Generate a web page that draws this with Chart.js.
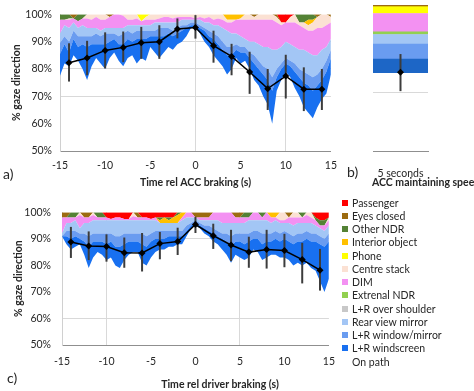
<!DOCTYPE html>
<html>
<head>
<meta charset="utf-8">
<title>Gaze direction around braking</title>
<script src="https://cdn.jsdelivr.net/npm/chart.js@4.4.1/dist/chart.umd.min.js"></script>
<style>
  html, body { margin: 0; padding: 0; background: #fff; }
  body { position: relative; width: 474px; height: 391px; overflow: hidden; font-family: Lato, "Open Sans", sans-serif; color: #262626; }
  canvas { position: absolute; }
  .panel { position: absolute; font-size: 14px; line-height: 14px; }
  .axis-title { position: absolute; font-size: 10.5px; font-weight: bold; line-height: 13px; white-space: nowrap; }
  #legend { position: absolute; left: 342px; top: 196px; font-size: 10.5px; }
  #legend div { display: flex; align-items: center; height: 13.25px; white-space: nowrap; }
  #legend i { display: inline-block; width: 6px; height: 6px; margin-right: 4px; }
</style>
</head>
<body>
<canvas id="chartA" width="345" height="195" style="left:0;top:0"></canvas>
<canvas id="chartB" width="134" height="195" style="left:340px;top:0"></canvas>
<canvas id="chartC" width="345" height="196" style="left:0;top:195px"></canvas>
<div class="panel" style="left:3px;top:167px">a)</div>
<div class="panel" style="left:347px;top:165px">b)</div>
<div class="panel" style="left:7px;top:371px">c)</div>
<div class="axis-title" style="left:372px;top:176px">ACC maintaining speed</div>
<div class="axis-title" style="left:120px;width:200px;text-align:center;top:378px">Time rel driver braking (s)</div>
<div id="legend"></div>

<script>
// categories, bottom of the stack first
const labels = ['On path', 'L+R windscreen', 'L+R window/mirror', 'Rear view mirror', 'L+R over shoulder',
  'Extrenal NDR', 'DIM', 'Centre stack', 'Phone', 'Interior object', 'Other NDR', 'Eyes closed', 'Passenger'];

const times = [-15, -14.5, -14, -13.5, -13, -12.5, -12, -11.5, -11, -10.5, -10, -9.5, -9, -8.5, -8, -7.5,
  -7, -6.5, -6, -5.5, -5, -4.5, -4, -3.5, -3, -2.5, -2, -1.5, -1, -0.5, 0, 0.5, 1, 1.5, 2, 2.5, 3, 3.5,
  4, 4.5, 5, 5.5, 6, 6.5, 7, 7.5, 8, 8.5, 9, 9.5, 10, 10.5, 11, 11.5, 12, 12.5, 13, 13.5, 14, 14.5, 15];
const meanTimes = [-14, -12, -10, -8, -6, -4, -2, 0, 2, 4, 6, 8, 10, 12, 14];

// a) ACC braking, % share of each gaze target
const aOnPath = [77.5, 82, 81, 85, 83, 80, 76, 81, 84, 82, 80, 84, 86, 83, 81, 84, 85, 82, 84, 83, 88, 86, 84, 86,
  88, 87, 89, 90, 92, 95, 95, 93, 90, 88, 85, 83, 81, 78, 80, 84, 82, 83, 80, 76, 74, 70, 67, 60, 72, 76,
  79, 77, 73, 70, 66, 64, 62, 66, 69, 71, 78];
const aWindscreen = [8, 7, 5, 6, 5, 9, 12, 8, 5, 7, 9, 6, 5, 6, 8, 7, 5, 9, 7, 8, 4, 6, 8, 6, 5, 5, 4, 4, 3, 1,
  1, 2, 4, 4, 6, 6, 6, 7, 5, 3, 4, 3, 4, 6, 6, 8, 9, 12, 5, 4, 3, 4, 6, 7, 9, 10, 10, 8, 7, 8, 6];
const aWindowMirror = [4, 3, 4, 3, 4, 3, 4, 3, 4, 3, 4, 3, 2, 3, 4, 3, 3, 3, 3, 3, 2, 2, 3, 3, 2, 2, 2, 2, 1, 1,
  1, 1, 1, 2, 2, 3, 3, 3, 3, 2, 2, 2, 2, 3, 3, 3, 4, 5, 3, 2, 2, 2, 3, 3, 4, 4, 5, 4, 4, 4, 3];
const aRearView = [3.5, 4, 5, 3, 3, 4, 3, 3, 2, 2, 2, 2, 2, 3, 2, 2, 3, 2, 2, 2, 2, 3, 2, 2, 2, 3, 2, 2, 2, 1,
  1, 2, 2, 3, 3, 4, 5, 6, 5, 4, 4, 3, 4, 5, 6, 7, 8, 10, 7, 6, 6, 6, 6, 7, 8, 8, 8, 7, 7, 5, 4];
const aDim = [5, 2, 3, 1.5, 2.5, 2.5, 3.5, 3, 4, 4, 3, 4, 5, 5, 4.5, 2, 2, 2.5, 1.5, 2, 2, 1, 1.5, 2, 2, 1.5, 2,
  1, 1, 1, 0.5, 1, 1.5, 2, 2, 2.5, 3, 3, 4, 5, 6, 7, 8, 8, 9, 10, 10, 11, 10, 8, 7, 8, 9, 9, 8, 8, 9, 10, 8, 8, 6];
const aCentreStack = [0, 0, 0.5, 0, 0, 0, 1.5, 2, 1, 2, 2, 0, 0, 0, 0.5, 2, 2, 1.5, 0, 1, 2, 2, 1.5, 1, 1, 1.5,
  1, 1, 1, 1, 1.5, 1, 1.5, 1, 2, 1.5, 2, 1, 1, 0, 0.5, 2, 2, 1, 2, 2, 2, 2, 2, 1, 0, 2, 3, 1, 2, 2, 3, 4, 5, 4, 2];
// sparse series: [time, %], zero elsewhere
const aOverShoulder = [];
const aExternalNdr = [];
const aPhone = [[-6, 2.5], [-5.5, 1]];
const aInterior = [[3.5, 2], [4, 2], [4.5, 2], [5, 1.5], [12.5, 2], [13, 1]];
const aOtherNdr = [[-15, 2], [-14.5, 2], [-14, 1.5], [-13, 2.5], [-12.5, 1.5], [11.5, 3], [12, 3], [12.5, 2], [13, 2]];
const aEyesClosed = [[-13.5, 1.5], [-9.5, 1], [6.5, 1], [9, 1], [13.5, 1], [15, 1]];
const aPassenger = [[9.5, 3], [10, 3], [10.5, 1]];
const aMean = [82.3, 84, 86.8, 87.9, 89.6, 90, 94.6, 95.2, 88.5, 84.6, 78.9, 72.8, 77.4, 72.6, 72.6];
const aHigh = [89.4, 90.3, 93.4, 93.7, 95.4, 96, 98.5, 99.7, 94, 89.2, 86.3, 80, 85.2, 80.6, 80];
const aLow = [75.4, 77.7, 80.2, 82.5, 83.7, 83.7, 91.2, 91.1, 82.3, 77.7, 70.9, 65, 69.2, 64.6, 65];

// b) ACC maintaining speed, one stacked bar (same order as labels)
const bCategory = ['5 seconds'];
const bShares = [76.8, 4.7, 5.1, 3.3, 0, 0.9, 6.3, 0, 2.3, 0, 0, 0.6, 0];
const bMean = [77];
const bHigh = [83.2];
const bLow = [70.5];

// c) driver braking
const cOnPath = [91, 88, 86, 87, 88, 84, 79, 83, 85, 84, 82, 83, 80, 79, 82, 84, 85, 85, 81, 80, 83, 85, 86, 86,
  87, 87, 88, 88, 91, 94, 95, 94, 92, 91, 89, 88, 86, 84, 81, 84, 83, 82, 83, 86, 85, 82, 83, 84, 84, 83,
  83, 82, 80, 81, 80, 81, 79, 78, 74, 70, 75];
const cWindscreen = [0, 3, 4, 4, 2, 5, 8, 6, 4, 5, 6, 6, 7, 8, 6, 5, 4, 4, 7, 7, 6, 5, 4, 4, 4, 4, 3, 3, 2, 1,
  1, 1, 2, 2, 3, 3, 4, 5, 6, 5, 6, 6, 6, 4, 5, 6, 6, 5, 6, 6, 7, 7, 8, 8, 9, 9, 10, 11, 14, 17, 14];
const cWindowMirror = [0, 2, 3, 2, 2, 3, 4, 3, 3, 3, 4, 3, 4, 4, 4, 3, 3, 3, 4, 4, 3, 3, 3, 3, 2, 2, 2, 2, 2, 1,
  1, 1, 1, 2, 2, 2, 2, 3, 4, 3, 3, 4, 3, 3, 3, 4, 3, 3, 3, 3, 3, 3, 3, 3, 3, 3, 3, 3, 3, 3, 3];
const cRearView = [1, 3, 3, 4, 2, 4, 5, 5, 5, 5, 5, 5, 6, 6, 5, 5, 5, 5, 5, 6, 5, 4, 3, 3, 3, 3, 3, 4, 3, 2,
  1, 1, 2, 2, 3, 4, 4, 4, 5, 4, 4, 4, 5, 4, 4, 5, 5, 4, 4, 4, 3, 4, 4, 4, 4, 3, 4, 3, 3, 3, 3];
const cDim = [6, 2, 2, 1, 5, 2, 2, 2, 1, 1, 1, 0.5, 1, 1, 0.5, 0.5, 1.5, 1, 1, 1, 0.5, 1, 0, 0, 0, 0, 0, 1, 2, 2,
  0, 1, 1, 1, 3, 3, 4, 4, 4, 2, 2, 2, 1, 3, 3, 1, 3, 2, 1, 1, 1, 2, 3, 2, 2, 3, 2, 2, 1, 2, 2];
const cOverShoulder = [];
const cExternalNdr = [];
const cCentreStack = [[-13, 1], [-11.5, 1], [-7, 1.5], [9.5, 3], [10, 3], [11, 2], [11.5, 2], [12.5, 1], [13, 2], [15, 1]];
const cPhone = [];
const cInterior = [[-4, 1], [-3.5, 2], [-3, 1], [-2.5, 2], [-2, 3], [-1.5, 2], [8.5, 2], [9, 2]];
const cOtherNdr = [[-14, 2], [-13.5, 2], [-11, 2], [-10.5, 2], [-4, 1], [-3, 1], [-2, 1], [5.5, 2], [6, 2], [7.5, 2],
  [12, 2], [13.5, 1], [14, 2], [14.5, 2]];
const cEyesClosed = [[-15, 2], [-14.5, 2], [-12.5, 2], [-12, 2], [-6.5, 2], [0, 2], [0.5, 2], [1, 2], [1.5, 2],
  [4.5, 2], [5, 2], [10.5, 2]];
const cPassenger = [[-10, 2], [-9.5, 2.5], [-9, 2], [-8.5, 2], [-8, 2.5], [-7.5, 2.5], [-6, 2], [-5.5, 2], [-5, 2.5],
  [-4.5, 2], [-4, 2], [-3.5, 2], [-3, 2], [-2.5, 2], [13.5, 2], [14, 3], [14.5, 3], [15, 2]];
const cMean = [88.8, 87.3, 87.1, 84.8, 84.7, 88.2, 89, 95.4, 91.2, 87.7, 85, 86, 85.6, 82.2, 78.2];
const cHigh = [94.5, 92.8, 91.7, 90.5, 92.2, 92.6, 94.2, 98.3, 95.7, 93.4, 90.8, 93.4, 91.9, 88.5, 86.2];
const cLow = [82.8, 82, 81.4, 79.1, 77.7, 82.3, 83.9, 92.2, 86.2, 81.6, 79.1, 78.8, 79.3, 73.2, 70.5];

const colors = ['rgba(255,255,255,0)', '#1870f0', '#6a9cf0', '#a3c6f5', '#c8c8c8', '#92d050', '#f391f2',
  '#fbe1d3', '#ffff00', '#ffc000', '#548235', '#9c6b10', '#ff0000'];
const bColors = colors.map((c, i) => i === 1 ? '#1d66c6' : c);

Chart.defaults.font.family = 'Lato, "Open Sans", sans-serif';
Chart.defaults.font.size = 10.5;
Chart.defaults.color = '#262626';

const titleFont = { size: 10.5, weight: 'bold' };
const gridAt = values => ctx => values.includes(ctx.tick.value) ? '#d9d9d9' : 'rgba(0,0,0,0)';
const dense = sparse => times.map(t => {
  const hit = sparse.find(p => p[0] === t);
  return hit ? hit[1] : 0;
});

// vertical error bars, drawn just before the mean line
const errorBars = {
  id: 'errorBars',
  beforeDatasetDraw(chart, args) {
    const ds = chart.data.datasets[args.index];
    if (!ds.errLow) return;
    const y = chart.scales.y;
    const ctx = chart.ctx;
    ctx.save();
    ctx.strokeStyle = '#3c3c3c';
    ctx.lineWidth = 2;
    args.meta.data.forEach((pt, i) => {
      ctx.beginPath();
      ctx.moveTo(pt.x, y.getPixelForValue(ds.errLow[i]));
      ctx.lineTo(pt.x, y.getPixelForValue(ds.errHigh[i]));
      ctx.stroke();
    });
    ctx.restore();
  }
};

const meanStyle = {
  type: 'line', label: 'Mean', stack: 'mean', order: 1, fill: false,
  borderColor: '#000', backgroundColor: '#000', borderWidth: 1.5,
  pointStyle: 'rectRot', pointRadius: 3.5, pointBorderWidth: 0
};

const areaSets = series => series.map((vals, i) => ({
  type: 'line', label: labels[i], stack: 'gaze', order: 2,
  data: times.map((t, j) => ({ x: t, y: vals[j] })),
  backgroundColor: colors[i], borderColor: 'rgba(0,0,0,0)', borderWidth: 0,
  pointRadius: 0, tension: 0, fill: i === 0 ? false : '-1'
}));

const timeChart = (id, series, mean, low, high, opts) => new Chart(document.getElementById(id), {
  type: 'line',
  data: {
    datasets: [
      ...areaSets(series),
      { ...meanStyle, data: meanTimes.map((t, i) => ({ x: t, y: mean[i] })), errLow: low, errHigh: high }
    ]
  },
  options: {
    responsive: false, animation: false, events: [],
    layout: { autoPadding: false, padding: opts.padding },
    plugins: { legend: { display: false }, tooltip: { enabled: false } },
    scales: {
      x: {
        type: 'linear', min: -15, max: 15,
        ticks: { stepSize: 5, padding: opts.xPad },
        grid: { color: gridAt(opts.xGrid), drawTicks: false },
        border: { color: '#8f8f8f' },
        title: { display: !!opts.xTitle, text: opts.xTitle, font: titleFont, padding: { top: 0, bottom: 6 } },
        afterFit: s => { s.height = opts.xHeight; }
      },
      y: {
        stacked: true, min: 50, max: 100,
        ticks: { stepSize: 10, padding: opts.yPad, callback: v => v + '%' },
        grid: { color: gridAt(opts.yGrid), drawTicks: false },
        border: { color: '#d0d0d0' },
        title: { display: true, text: '% gaze direction', font: titleFont, padding: { top: opts.yTitlePad, bottom: 0 } },
        afterFit: s => { s.width = opts.yWidth; }
      }
    }
  },
  plugins: [errorBars]
});

timeChart('chartA',
  [aOnPath, aWindscreen, aWindowMirror, aRearView, dense(aOverShoulder), dense(aExternalNdr), aDim, aCentreStack,
    dense(aPhone), dense(aInterior), dense(aOtherNdr), dense(aEyesClosed), dense(aPassenger)],
  aMean, aLow, aHigh,
  { padding: { left: 0, top: 5, right: 11, bottom: 0 }, xPad: 8, yPad: 8, xHeight: 44, yWidth: 60,
    xGrid: [0, 10], yGrid: [70, 80, 90], yTitlePad: 10, xTitle: 'Time rel ACC braking (s)' });

const chartC = timeChart('chartC',
  [cOnPath, cWindscreen, cWindowMirror, cRearView, dense(cOverShoulder), dense(cExternalNdr), cDim, dense(cCentreStack),
    dense(cPhone), dense(cInterior), dense(cOtherNdr), dense(cEyesClosed), dense(cPassenger)],
  cMean, cLow, cHigh,
  { padding: { left: 0, top: 4, right: 10, bottom: 0 }, xPad: 10, yPad: 11, xHeight: 46, yWidth: 62,
    xGrid: [-10, 5], yGrid: [60, 90], yTitlePad: 12, xTitle: '' });

new Chart(document.getElementById('chartB'), {
  type: 'bar',
  data: {
    labels: bCategory,
    datasets: [
      ...labels.map((label, i) => ({
        label, stack: 'gaze', order: 2, data: [bShares[i]], backgroundColor: bColors[i],
        barPercentage: 1, categoryPercentage: 1
      })),
      { ...meanStyle, data: bMean, errLow: bLow, errHigh: bHigh }
    ]
  },
  options: {
    responsive: false, animation: false, events: [],
    layout: { autoPadding: false, padding: { left: 0, top: 5, right: 46, bottom: 0 } },
    plugins: { legend: { display: false }, tooltip: { enabled: false } },
    scales: {
      x: {
        stacked: true,
        ticks: { padding: 8 },
        grid: { display: false },
        border: { color: '#8f8f8f' },
        afterFit: s => { s.height = 44; }
      },
      y: {
        stacked: true, min: 50, max: 100,
        ticks: { display: false, stepSize: 10 },
        grid: { color: gridAt([70]), drawTicks: false },
        border: { display: false },
        afterFit: s => { s.width = 33; }
      }
    }
  },
  plugins: [errorBars]
});

// legend built from the driver-braking chart, top of the stack first
const legendBox = document.getElementById('legend');
chartC.data.datasets.filter(ds => ds.stack === 'gaze').slice().reverse().forEach(ds => {
  const row = document.createElement('div');
  const swatch = document.createElement('i');
  swatch.style.background = ds.backgroundColor;
  row.appendChild(swatch);
  row.appendChild(document.createTextNode(ds.label));
  legendBox.appendChild(row);
});
</script>
</body>
</html>
